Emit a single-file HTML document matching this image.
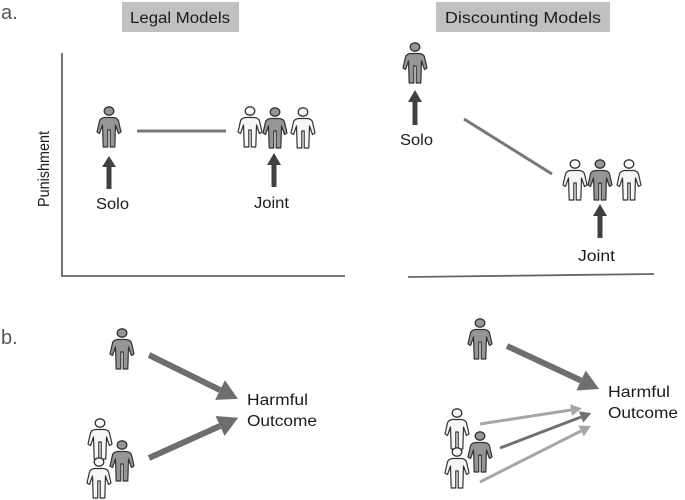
<!DOCTYPE html>
<html><head><meta charset="utf-8"><style>
html,body{margin:0;padding:0;background:#fff;width:685px;height:500px;overflow:hidden}
svg{display:block}
text{font-family:"Liberation Sans",sans-serif;fill:#1c1c1c;font-size:15.5px}
</style></head><body>
<svg width="685" height="500" viewBox="0 0 685 500" xmlns="http://www.w3.org/2000/svg">
<defs>
<filter id="b" x="-5%" y="-5%" width="110%" height="110%"><feGaussianBlur stdDeviation="0.35"/></filter>
<g id="body">
<path d="M-4.5,11.5 Q-8.5,12 -9.5,15 L-12,26 L-9.5,27.5 L-6.5,19 L-5.8,41 L-1.2,41 L-1.2,24 L1.2,24 L1.2,41 L5.8,41 L6.5,19 L9.5,27.5 L12,26 L9.5,15 Q8.5,12 4.5,11.5 Z" stroke="#333" stroke-width="1.2" stroke-linejoin="round"/>
<ellipse cx="0" cy="5" rx="4.8" ry="4.2" stroke="#333" stroke-width="1.3"/>
</g>
<g id="g" fill="#969696"><use href="#body"/></g>
<g id="w" fill="#f6f6f6"><use href="#body"/></g>
<marker id="h20" markerUnits="userSpaceOnUse" markerWidth="22" markerHeight="24" refX="0" refY="11" orient="auto"><path d="M0,0 L20,11 L0,22 Z" fill="#6e6e6e"/></marker>
<marker id="m" markerUnits="userSpaceOnUse" markerWidth="13" markerHeight="14" refX="0" refY="6" orient="auto"><path d="M0,0 L11,6 L0,12 Z" fill="#707070"/></marker>
<marker id="l" markerUnits="userSpaceOnUse" markerWidth="13" markerHeight="14" refX="0" refY="6" orient="auto"><path d="M0,0 L11,6 L0,12 Z" fill="#a6a6a6"/></marker>
</defs>
<g filter="url(#b)">
<rect x="122" y="2" width="117" height="30" fill="#c0c0c0"/>
<rect x="436" y="2" width="174" height="30" fill="#c0c0c0"/>
<path d="M62,53 V276 H345" fill="none" stroke="#666" stroke-width="1.8"/>
<line x1="408" y1="277" x2="654" y2="274" stroke="#666" stroke-width="1.8"/>
<line x1="137" y1="131" x2="226" y2="131" stroke="#777" stroke-width="3"/>
<line x1="464" y1="119" x2="552" y2="174" stroke="#777" stroke-width="3"/>
<g fill="#404040">
<path d="M109,156 L116,167 L111.5,167 V189 H106.5 V167 L102,167 Z"/>
<path d="M274,153 L281,165 L276.5,165 V187 H271.5 V165 L267,165 Z"/>
<path d="M415,90 L422,102 L417.5,102 V125 H412.5 V102 L408,102 Z"/>
<path d="M600,204 L607,216 L602.5,216 V238 H597.5 V216 L593,216 Z"/>
</g>
<use href="#g" x="109" y="106"/>
<use href="#w" x="250" y="106"/><use href="#g" x="275" y="107"/><use href="#w" x="303" y="107"/>
<use href="#g" x="415" y="42"/>
<use href="#w" x="575" y="159"/><use href="#g" x="600" y="159"/><use href="#w" x="629" y="159"/>
<use href="#g" x="122" y="328"/>
<use href="#w" x="100" y="418"/><use href="#g" x="122" y="440"/><use href="#w" x="99" y="457"/>
<use href="#g" x="480" y="318"/>
<use href="#w" x="457" y="408"/><use href="#g" x="480" y="431"/><use href="#w" x="457" y="447"/>
<line x1="149" y1="355" x2="220" y2="390" stroke="#6e6e6e" stroke-width="6" marker-end="url(#h20)"/>
<line x1="149" y1="458" x2="220" y2="426" stroke="#6e6e6e" stroke-width="6" marker-end="url(#h20)"/>
<line x1="507" y1="346" x2="581" y2="380.5" stroke="#6e6e6e" stroke-width="6" marker-end="url(#h20)"/>
<line x1="480" y1="424" x2="571" y2="410" stroke="#a6a6a6" stroke-width="3" marker-end="url(#l)"/>
<line x1="500" y1="448" x2="581" y2="417" stroke="#707070" stroke-width="3" marker-end="url(#m)"/>
<line x1="480" y1="482" x2="581" y2="431" stroke="#a6a6a6" stroke-width="3" marker-end="url(#l)"/>
<text x="1" y="19" style="font-size:20px;fill:#555">a.</text>
<text x="1" y="344" style="font-size:20px;fill:#555">b.</text>
<text x="130" y="23" textLength="100" lengthAdjust="spacingAndGlyphs">Legal Models</text>
<text x="445" y="23" textLength="156" lengthAdjust="spacingAndGlyphs">Discounting Models</text>
<text transform="translate(49,207) rotate(-90)" textLength="76" lengthAdjust="spacingAndGlyphs" style="font-size:16px">Punishment</text>
<text x="96" y="209" textLength="33" lengthAdjust="spacingAndGlyphs">Solo</text>
<text x="254" y="208" textLength="35" lengthAdjust="spacingAndGlyphs">Joint</text>
<text x="400" y="145" textLength="33" lengthAdjust="spacingAndGlyphs">Solo</text>
<text x="578" y="261" textLength="37" lengthAdjust="spacingAndGlyphs">Joint</text>
<text x="247" y="405" textLength="61" lengthAdjust="spacingAndGlyphs">Harmful</text>
<text x="247" y="426" textLength="70" lengthAdjust="spacingAndGlyphs">Outcome</text>
<text x="608" y="397" textLength="62" lengthAdjust="spacingAndGlyphs">Harmful</text>
<text x="608" y="418" textLength="70" lengthAdjust="spacingAndGlyphs">Outcome</text>
</g>
</svg>
</body></html>
